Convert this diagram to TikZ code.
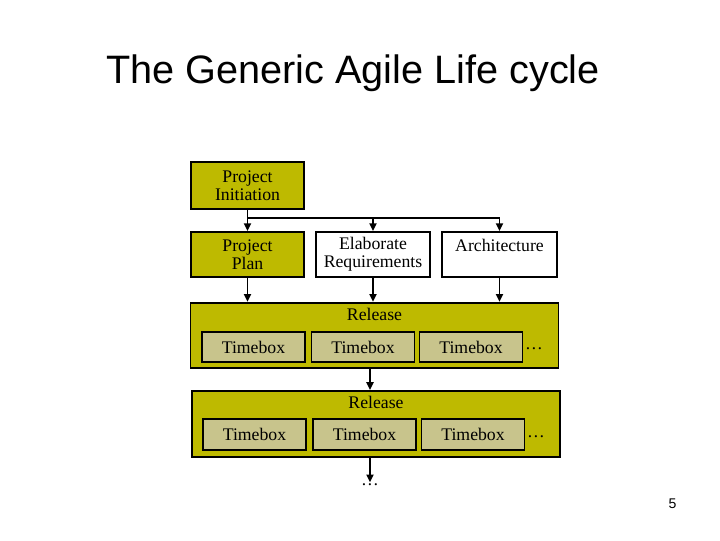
\documentclass[tikz,border=0pt]{standalone}
\usepackage{fontspec}
\setmainfont{Liberation Serif}
\newfontfamily\titlefont{Liberation Sans}
\usepackage{xcolor}
\usetikzlibrary{arrows.meta,positioning}

\definecolor{olive}{RGB}{190,186,0}
\definecolor{khaki}{RGB}{200,196,140}

\begin{document}
\begin{tikzpicture}[x=0.025cm, y=-0.025cm,
    every node/.style={font=\fontsize{12.6}{13}\selectfont},
    phase/.style={draw, line width=1.2pt, fill=olive, align=center, inner sep=0pt},
    task/.style={draw, line width=1.2pt, fill=white, align=center, inner sep=0pt},
    release/.style={draw, line width=1.2pt, fill=olive, inner sep=0pt, minimum width=9.2cm, minimum height=1.64cm},
    timebox/.style={draw, line width=1.2pt, fill=khaki, inner sep=0pt, minimum width=2.58cm, minimum height=0.76cm},
    arr/.style={-{Triangle[length=5.5pt,width=5pt]}, line width=1.2pt}]
\useasboundingbox (0,0) rectangle (720,540);

% Title and page number
\node (title) at (353,83) [anchor=base, font=\titlefont\fontsize{28.2}{30}\selectfont] {The Generic Agile Life cycle};
\node (page) at (672.5,504) [font=\titlefont\fontsize{10}{12}\selectfont] {5};

% Define the entities
\node (init) at (247.5,185.5) [phase, minimum width=2.83cm, minimum height=1.18cm] {Project\\Initiation};
\node (plan) at (247.5,254.5) [phase, minimum width=2.83cm, minimum height=1.13cm] {Project\\Plan};
\node (elab) at (373,254.5) [task, minimum width=2.85cm, minimum height=1.13cm] {Elaborate\\Requirements};
\node (arch) at (499.5,254.5) [task, minimum width=2.88cm, minimum height=1.13cm] {Architecture\\\mbox{}};

% Releases
\node (rel1) at (374.5,335.5) [release, label={[anchor=north, inner sep=0pt, yshift=-4pt]north:Release}] {};
\node (tb11) at (253.5,347) [timebox] {Timebox};
\node (tb12) at (363,347) [timebox] {Timebox};
\node (tb13) at (471,347) [timebox] {Timebox};
\node (more1) at (534,349) {\dots};

\node (rel2) at (376,424) [release, minimum height=1.66cm, label={[anchor=north, inner sep=0pt, yshift=-4pt]north:Release}] {};
\node (tb21) at (254.5,434.5) [timebox] {Timebox};
\node (tb22) at (364.5,434.5) [timebox] {Timebox};
\node (tb23) at (473,434.5) [timebox] {Timebox};
\node (more2) at (536,437) {\dots};

\node (moreend) at (370,485) [inner sep=1pt] {\dots};

% Connectors
\coordinate (bus) at (247.5,218);
\draw [arr] (init.south) -- (plan.north);
\draw [arr] (bus) -| (arch.north);
\draw [arr] (bus -| elab.north) -- (elab.north);

\draw [arr] (plan.south) -- (plan.south |- rel1.north);
\draw [arr] (elab.south) -- (elab.south |- rel1.north);
\draw [arr] (arch.south) -- (arch.south |- rel1.north);

\draw [arr] (rel1.south -| moreend) -- (rel2.north -| moreend);
\draw [arr] (rel2.south -| moreend) -- (moreend.north);
\end{tikzpicture}
\end{document}
